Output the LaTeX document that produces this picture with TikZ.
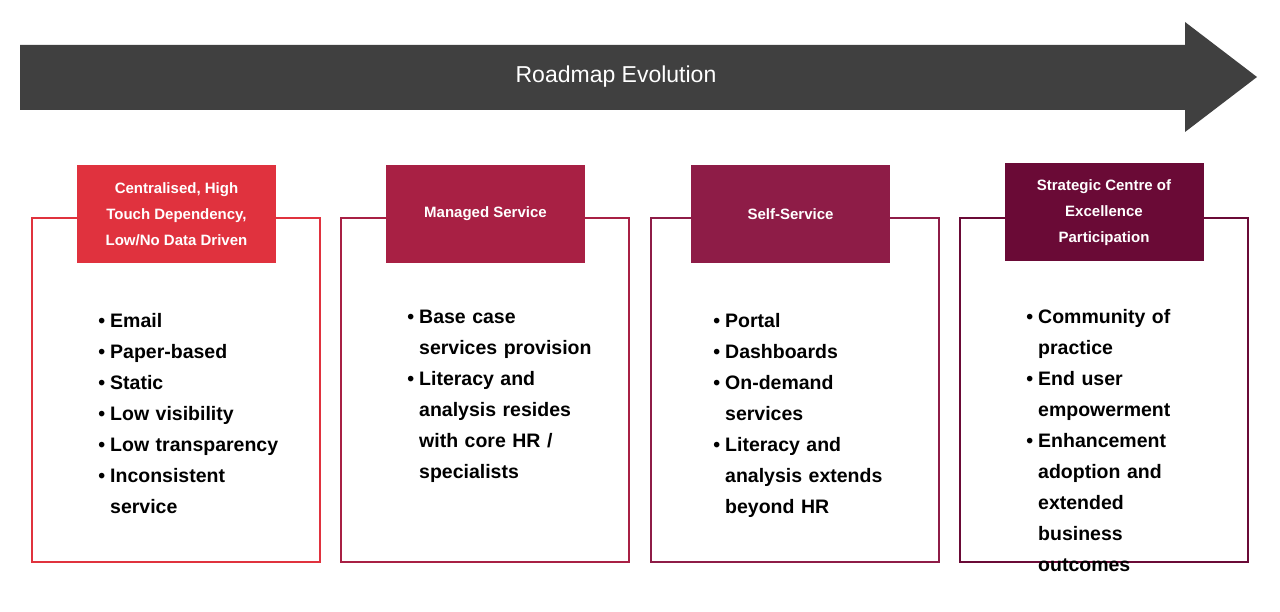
\documentclass[tikz,border=0pt]{standalone}
\usepackage{fontspec}
\setmainfont{Liberation Sans}
\usepackage{enumitem}
\usetikzlibrary{positioning}
\definecolor{roadgray}{HTML}{404040}
\definecolor{stageone}{HTML}{E0323E}
\definecolor{stagetwo}{HTML}{A82044}
\definecolor{stagethree}{HTML}{8E1C47}
\definecolor{stagefour}{HTML}{6A0A36}
\newcommand{\stagelist}[1]{%
\begin{itemize}[leftmargin=16pt,label=\textbullet,itemsep=0pt,parsep=0pt,topsep=0pt]#1\end{itemize}}
\begin{document}
\begin{tikzpicture}[x=1pt,y=-1pt,
% outer frames of the stages
frame/.style={draw, line width=1.6pt},
% coloured headers
header/.style={minimum width=199pt, minimum height=98pt, text=white, align=center,
  font=\fontsize{15}{26}\selectfont\bfseries, inner sep=2pt},
% bullet texts
items/.style={anchor=north west, text width=190pt, inner sep=0pt,
  font=\fontsize{19.5}{31}\selectfont\bfseries}
]
\useasboundingbox (0,0) rectangle (1280,612);

% roadmap arrow
\fill[roadgray] (20,45) -- (1185,45) -- (1185,22) -- (1257,77) -- (1185,132)
  -- (1185,110) -- (20,110) -- cycle;
\node[text=white, font=\fontsize{23}{28}\selectfont] (road) at (616,77) {Roadmap Evolution};

% stage 1
\draw[frame, stageone] (32,218) rectangle (320,562);
\node[header, fill=stageone] (h1) at (176.5,214) {Centralised, High\\Touch Dependency,\\Low/No Data Driven};
\node[items] (l1) at (94,296) {\stagelist{\item Email \item Paper-based \item Static
  \item Low visibility \item Low transparency \item Inconsistent\\service}};

% stage 2
\draw[frame, stagetwo] (341,218) rectangle (629,562);
\node[header, fill=stagetwo] (h2) at (485.5,214) {Managed Service};
\node[items] (l2) at (403,292) {\stagelist{\item Base case\\services provision
  \item Literacy and\\analysis resides\\with core HR /\\specialists}};

% stage 3
\draw[frame, stagethree] (651,218) rectangle (939,562);
\node[header, fill=stagethree] (h3) at (790.5,214) {Self-Service};
\node[items] (l3) at (709,296) {\stagelist{\item Portal \item Dashboards
  \item On-demand\\services \item Literacy and\\analysis extends\\beyond HR}};

% stage 4
\draw[frame, stagefour] (960,218) rectangle (1248,562);
\node[header, fill=stagefour] (h4) at (1104,212.5) {Strategic Centre of\\Excellence\\Participation};
\node[items] (l4) at (1022,292) {\stagelist{\item Community of\\practice
  \item End user\\empowerment \item Enhancement\\adoption and\\extended business\\outcomes}};
\end{tikzpicture}
\end{document}
